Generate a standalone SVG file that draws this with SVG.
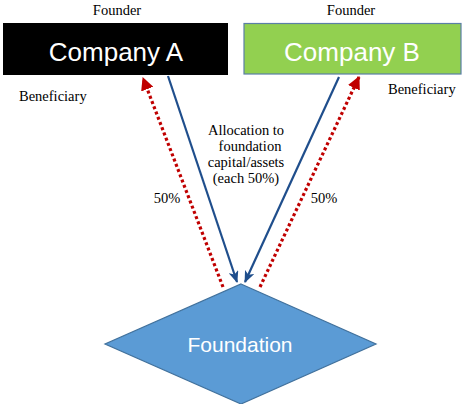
<svg xmlns="http://www.w3.org/2000/svg" width="474" height="404" viewBox="0 0 474 404">
<style>
.lbl{font-family:"Liberation Serif","Times New Roman",serif;font-size:14.5px;fill:#000}
.big{font-family:"Liberation Sans",Arial,sans-serif;fill:#fff;text-anchor:middle}
.blue{stroke:#1F4E8C;stroke-width:2.2;fill:none}
.red{stroke:#C00000;stroke-width:3.2;stroke-dasharray:3 2.6;fill:none}
</style>
<defs>
<marker id="ab" viewBox="0 0 12 10" refX="11" refY="5" markerWidth="12" markerHeight="10" markerUnits="userSpaceOnUse" orient="auto">
<path d="M0,0 L12,5 L0,10 L3,5 Z" fill="#1F4E8C"/>
</marker>
<marker id="ar" viewBox="0 0 12 12" refX="11" refY="6" markerWidth="13" markerHeight="13" markerUnits="userSpaceOnUse" orient="auto">
<path d="M0,0 L12,6 L0,12 Z" fill="#C00000"/>
</marker>
</defs>
<rect width="474" height="404" fill="#fff"/>
<g id="companyA">
<rect x="3" y="23" width="225" height="52" fill="#000"/>
<text class="big" x="116" y="61" font-size="26">Company A</text>
</g>
<g id="companyB">
<rect x="244" y="23.5" width="217" height="50.5" fill="#92D050" stroke="#5B7FA6" stroke-width="1.2"/>
<text class="big" x="352" y="61" font-size="26">Company B</text>
</g>
<g id="foundation">
<path d="M241,284 L376,344 L241,404 L105,344 Z" fill="#5B9BD5" stroke="#41719C" stroke-width="1.2"/>
<text class="big" x="240" y="352" font-size="21">Foundation</text>
</g>
<g id="connectors">
<line class="blue" x1="168" y1="76" x2="237" y2="282" marker-end="url(#ab)"/>
<line class="blue" x1="339" y1="77" x2="245" y2="282" marker-end="url(#ab)"/>
<line class="red" x1="223" y1="287" x2="143" y2="78" marker-end="url(#ar)"/>
<line class="red" x1="260" y1="287" x2="359" y2="77" marker-end="url(#ar)"/>
</g>
<g id="labels">
<text class="lbl" x="117" y="15" text-anchor="middle">Founder</text>
<text class="lbl" x="351" y="15" text-anchor="middle">Founder</text>
<text class="lbl" x="19" y="101">Beneficiary</text>
<text class="lbl" x="388" y="94">Beneficiary</text>
<text class="lbl" x="246" y="135" text-anchor="middle">Allocation to</text>
<text class="lbl" x="250" y="151" text-anchor="middle">foundation</text>
<text class="lbl" x="246" y="167" text-anchor="middle">capital/assets</text>
<text class="lbl" x="246" y="183" text-anchor="middle">(each 50%)</text>
<text class="lbl" x="167" y="203" text-anchor="middle">50%</text>
<text class="lbl" x="324" y="203" text-anchor="middle">50%</text>
</g>
</svg>
